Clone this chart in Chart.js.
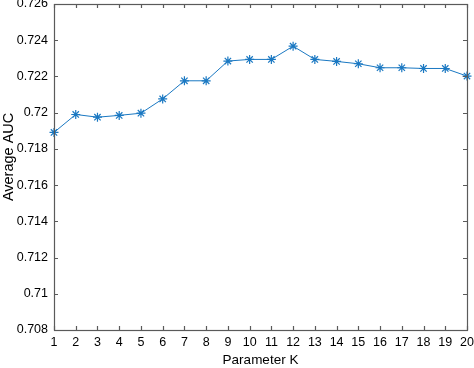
<!DOCTYPE html>
<html>
<head>
<meta charset="utf-8">
<script src="https://cdn.jsdelivr.net/npm/chart.js@4/dist/chart.umd.min.js"></script>
<style>
  html, body { margin: 0; padding: 0; background: #ffffff; }
  #wrap { width: 474px; height: 368px; position: relative; }
</style>
</head>
<body>
<div id="wrap"><canvas id="c"></canvas></div>
<script>
const kValues = [1, 2, 3, 4, 5, 6, 7, 8, 9, 10, 11, 12, 13, 14, 15, 16, 17, 18, 19, 20];
const avgAUC = [0.71891, 0.7199, 0.71975, 0.71985, 0.71997, 0.72076, 0.72176, 0.72176, 0.72285, 0.72294,
                0.72294, 0.72367, 0.72294, 0.72283, 0.7227, 0.72248, 0.72248, 0.72244, 0.72244, 0.72202];
const yTicks = [0.708, 0.71, 0.712, 0.714, 0.716, 0.718, 0.72, 0.722, 0.724, 0.726];
const yTickLabels = ['0.708', '0.71', '0.712', '0.714', '0.716', '0.718', '0.72', '0.722', '0.724', '0.726'];
const xTickLabels = kValues.map(String);

const FONT = '"Liberation Sans", Arial, Helvetica, sans-serif';
const AXIS_COLOR = '#5a5a5a';
const LINE_COLOR = '#1a78c2';

const boxPlugin = {
  id: 'matlabBox',
  afterDraw(chart) {
    const ctx = chart.ctx;
    const a = chart.chartArea;
    const xs = chart.scales.x, ys = chart.scales.y;
    const tl = 4;
    ctx.save();
    ctx.strokeStyle = AXIS_COLOR;
    ctx.lineWidth = 1.2;
    ctx.beginPath();
    xs.ticks.forEach(t => {
      const px = Math.round(xs.getPixelForValue(t.value)) + 0.5;
      ctx.moveTo(px, a.bottom); ctx.lineTo(px, a.bottom - tl);
      ctx.moveTo(px, a.top); ctx.lineTo(px, a.top + tl);
    });
    ys.ticks.forEach(t => {
      const py = Math.round(ys.getPixelForValue(t.value)) + 0.5;
      ctx.moveTo(a.left, py); ctx.lineTo(a.left + tl, py);
      ctx.moveTo(a.right, py); ctx.lineTo(a.right - tl, py);
    });
    ctx.stroke();
    ctx.strokeRect(Math.round(a.left) + 0.5, Math.round(a.top) + 0.5,
                   Math.round(a.right - a.left), Math.round(a.bottom - a.top));
    ctx.restore();
  }
};

new Chart(document.getElementById('c'), {
  type: 'line',
  data: {
    datasets: [{
      data: kValues.map((k, i) => ({ x: k, y: avgAUC[i] })),
      borderColor: LINE_COLOR,
      backgroundColor: LINE_COLOR,
      borderWidth: 1,
      pointStyle: 'star',
      pointRadius: 4.5,
      pointBorderWidth: 1.2,
      pointBorderColor: LINE_COLOR,
      tension: 0,
      fill: false,
      clip: false
    }]
  },
  options: {
    responsive: true,
    maintainAspectRatio: false,
    animation: false,
    events: [],
    layout: { autoPadding: false, padding: { top: 4, right: 7, left: 0, bottom: 0 } },
    plugins: { legend: { display: false }, tooltip: { enabled: false }, title: { display: false } },
    scales: {
      x: {
        type: 'linear',
        min: 1, max: 20,
        afterBuildTicks: s => { s.ticks = kValues.map(v => ({ value: v })); },
        ticks: {
          autoSkip: false,
          maxRotation: 0,
          color: '#000',
          padding: 5,
          font: { family: FONT, size: 12.5 },
          callback: (v, i) => xTickLabels[i]
        },
        grid: { display: false, drawTicks: false },
        border: { display: false },
        title: {
          display: true, text: 'Parameter K', color: '#000',
          font: { family: FONT, size: 13.5 }, padding: { top: 2, bottom: 0 }
        },
        afterFit: s => { s.height = 38; s.paddingLeft = 0; s.paddingRight = 0; s.paddingTop = 0; s.paddingBottom = 0; }
      },
      y: {
        min: 0.708, max: 0.726,
        afterBuildTicks: s => { s.ticks = yTicks.map(v => ({ value: v })); },
        ticks: {
          color: '#000',
          padding: 6,
          font: { family: FONT, size: 12.5 },
          callback: (v, i) => yTickLabels[i]
        },
        grid: { display: false, drawTicks: false },
        border: { display: false },
        title: {
          display: true, text: '     Average AUC', color: '#000',
          font: { family: FONT, size: 14.5 }, padding: { top: 0, bottom: 2 }
        },
        afterFit: s => { s.width = 54; s.paddingLeft = 0; s.paddingRight = 0; s.paddingTop = 0; s.paddingBottom = 0; }
      }
    }
  },
  plugins: [boxPlugin]
});
</script>
</body>
</html>
